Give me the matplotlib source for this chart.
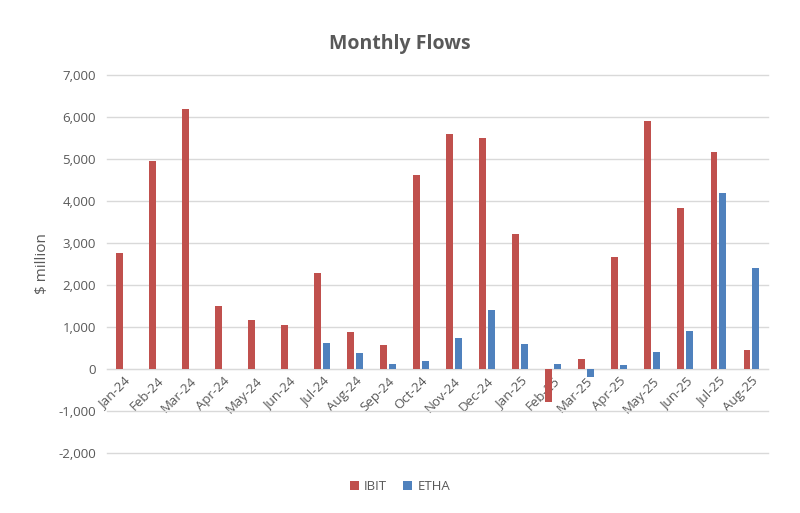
import numpy as np
import matplotlib.pyplot as plt
from matplotlib.ticker import FuncFormatter

# --- data ---
months = ["Jan-24", "Feb-24", "Mar-24", "Apr-24", "May-24", "Jun-24", "Jul-24",
          "Aug-24", "Sep-24", "Oct-24", "Nov-24", "Dec-24", "Jan-25", "Feb-25",
          "Mar-25", "Apr-25", "May-25", "Jun-25", "Jul-25", "Aug-25"]
ibit = [2770, 4950, 6190, 1500, 1170, 1050, 2290, 880, 570, 4620,
        5600, 5500, 3210, -780, 240, 2670, 5900, 3830, 5170, 450]
etha = [0, 0, 0, 0, 0, 0, 620, 380, 120, 190,
        740, 1400, 600, 120, -200, 100, 410, 900, 4190, 2400]

RED = "#c0504d"
BLUE = "#4f81bd"
GREY = "#595959"

plt.rcParams['font.family'] = ['Open Sans', 'DejaVu Sans']

fig = plt.figure(figsize=(8, 5.13), dpi=100)
ax = fig.add_axes([0.134, 0.117, 0.826, 0.737])

x = np.arange(len(months))
w = 0.21
ax.bar(x - w / 2 - 0.03, ibit, width=w, color=RED, label="IBIT", zorder=3)
ax.bar(x + w / 2 + 0.03, etha, width=w, color=BLUE, label="ETHA", zorder=3)

ax.set_xlim(-0.5, len(months) - 0.5)
ax.set_ylim(-2000, 7000)
ax.set_yticks(np.arange(-2000, 7001, 1000))
ax.yaxis.set_major_formatter(FuncFormatter(lambda v, p: f"{int(v):,}"))
ax.grid(axis="y", color="#d9d9d9", linewidth=1, zorder=0)
for gl in ax.get_ygridlines():
    gl.set_clip_on(False)

for s in ["top", "right", "left"]:
    ax.spines[s].set_visible(False)
ax.spines["bottom"].set_position(("data", 0))
ax.spines["bottom"].set_color("#d9d9d9")

ax.set_xticks(x)
ax.set_xticklabels(months, rotation=45, ha="right", rotation_mode="anchor")
ax.tick_params(axis="both", length=0, colors=GREY, labelsize=9.5)
ax.tick_params(axis="x", pad=4)
ax.tick_params(axis="y", pad=8)

ax.set_ylabel(r"\$ million", color=GREY, fontsize=11, labelpad=6)
fig.text(0.5, 0.915, "Monthly Flows", ha="center", va="center",
         fontsize=14, fontweight="bold", color=GREY)

leg = fig.legend(loc="center", bbox_to_anchor=(0.5, 0.052), ncol=2, frameon=False,
                 fontsize=9.5, handlelength=0.7, handleheight=0.7, columnspacing=1.2,
                 handletextpad=0.4)
for t in leg.get_texts():
    t.set_color(GREY)

fig.savefig("out.png", dpi=100)
